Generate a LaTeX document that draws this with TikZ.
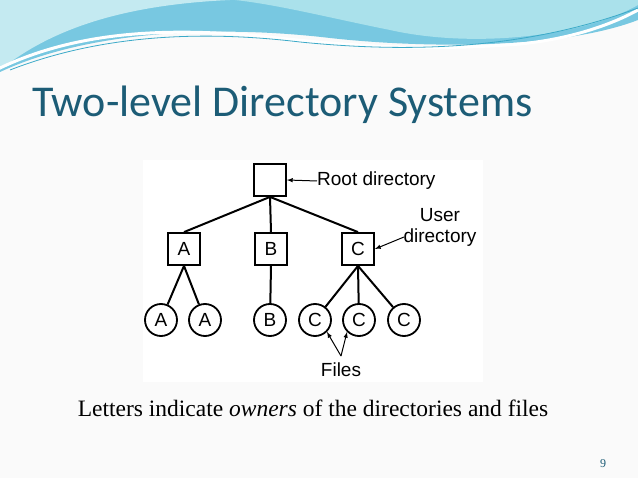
\documentclass[tikz,border=0pt]{standalone}
\usepackage{fontspec}
\setmainfont{Liberation Serif}
\newfontfamily\dia{Liberation Sans}
\newfontfamily\ttl{Carlito}
\definecolor{ttlc}{RGB}{28,92,118}
\definecolor{wa}{RGB}{120,200,225}
\definecolor{wb}{RGB}{170,225,235}
\definecolor{wc}{RGB}{150,205,230}
\definecolor{wl}{RGB}{60,170,200}
\begin{document}
\begin{tikzpicture}[x=1pt,y=-1pt,
  dbox/.style={draw,line width=1.8pt,minimum size=32pt,inner sep=0pt,font=\dia\fontsize{19}{19}\selectfont},
  fcirc/.style={draw,circle,line width=1.8pt,minimum size=32pt,inner sep=0pt,font=\dia\fontsize{19}{19}\selectfont},
  lbl/.style={font=\dia\fontsize{19}{21}\selectfont,inner sep=0pt},
  edge/.style={line width=2pt},
  ptr/.style={line width=1pt,-latex}]
\useasboundingbox (0,0) rectangle (638,478);
\fill[gray!4] (0,0) rectangle (638,478);
% waves
\fill[wa] (0,0) -- (638,0) -- (638,20) .. controls (560,50) and (420,48) .. (330,38) .. controls (220,25) and (90,30) .. (0,72) -- cycle;
\fill[wb!70!white] (0,0) -- (230,0) .. controls (120,5) and (50,30) .. (0,70) -- cycle;
\fill[wb] (235,0) -- (638,0) -- (638,5) .. controls (580,38) and (470,48) .. (390,30) .. controls (330,18) and (280,5) .. (235,0) -- cycle;
\draw[white,line width=3pt] (0,68) .. controls (80,30) and (170,28) .. (260,36) .. controls (340,45) and (420,52) .. (520,44) .. controls (580,38) and (620,20) .. (638,10);
\draw[wl,line width=0.8pt] (10,70) .. controls (100,35) and (200,30) .. (300,42) .. controls (400,52) and (520,52) .. (638,8);
% title
\node[anchor=base west,inner sep=0pt,text=ttlc,font=\ttl\fontsize{44}{46}\selectfont] (title) at (32,117) {Two-level Directory Systems};
% figure background
\fill[white] (143,160) rectangle (483,382);
\node[dbox] (root) at (270,180) {};
\node[dbox] (A) at (184,249) {A};
\node[dbox] (B) at (271,249) {B};
\node[dbox] (C) at (358,249) {C};
\node[fcirc] (a1) at (161,320) {A};
\node[fcirc] (a2) at (205,320) {A};
\node[fcirc] (b1) at (270,320) {B};
\node[fcirc] (c1) at (315,320) {C};
\node[fcirc] (c2) at (359,320) {C};
\node[fcirc] (c3) at (404,320) {C};
\draw[edge] (root.south) -- (A.north);
\draw[edge] (root.south) -- (B.north);
\draw[edge] (root.south) -- (C.north);
\draw[edge] (A.south) -- (a1);
\draw[edge] (A.south) -- (a2);
\draw[edge] (B.south) -- (b1);
\draw[edge] (C.south) -- (c1);
\draw[edge] (C.south) -- (c2);
\draw[edge] (C.south) -- (c3);
\node[lbl,anchor=west] (rl) at (317,181) {Root directory};
\draw[ptr] (rl.west) -- (root.east);
\node[lbl,align=center] (ul) at (440,227) {User\\directory};
\coordinate (us) at (404,237);
\draw[ptr] (us) -- (C.east);
\node[lbl] (fl) at (341,370) {Files};
\coordinate (fs) at (341,356);
\draw[ptr] (fs) -- (c1.south east);
\draw[ptr] (fs) -- (c2.south west);
\node[anchor=base,inner sep=0pt,font=\fontsize{23.5}{25}\selectfont] (cap) at (313,417) {Letters indicate \textit{owners} of the directories and files};
\node[anchor=base,inner sep=0pt,text=ttlc,font=\fontsize{12}{14}\selectfont] (pg) at (603,468) {9};
\end{tikzpicture}
\end{document}
